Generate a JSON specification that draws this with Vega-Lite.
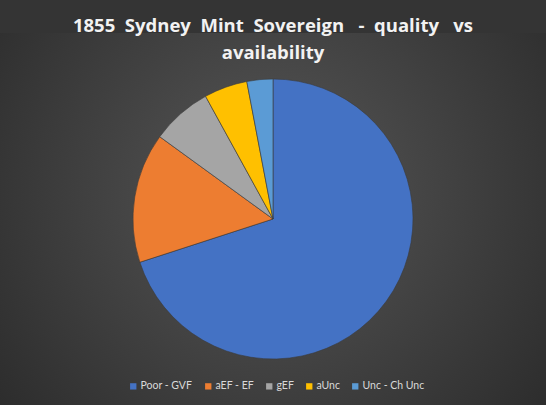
{
  "$schema": "https://vega.github.io/schema/vega-lite/v6.json",
  "autosize": "none",
  "width": 546,
  "height": 372,
  "padding": {"top": 33, "left": 0, "right": 0, "bottom": 0},
  "background": "#343434",
  "title": {
    "text": ["1855\u00a0 Sydney\u00a0 Mint\u00a0 Sovereign\u00a0\u00a0 -\u00a0\u00a0quality\u00a0\u00a0 vs", "availability"],
    "font": "Open Sans",
    "fontSize": 18.5,
    "fontWeight": "bold",
    "color": "#f2f2f2",
    "anchor": "middle",
    "offset": -29,
    "lineHeight": 27
  },
  "layer": [
    {
      "data": {"values": [{"panel": "background"}]},
      "mark": {
        "type": "rect",
        "fill": {
          "gradient": "radial",
          "x1": 0.5, "y1": 0.45, "r1": 0,
          "x2": 0.5, "y2": 0.45, "r2": 0.72,
          "stops": [
            {"offset": 0, "color": "#575757"},
            {"offset": 1, "color": "#272727"}
          ]
        }
      },
      "encoding": {}
    },
    {
      "data": {
        "values": [
          {"quality": "Poor - GVF", "share": 70, "rank": 1},
          {"quality": "aEF - EF", "share": 15, "rank": 2},
          {"quality": "gEF", "share": 7, "rank": 3},
          {"quality": "aUnc", "share": 5, "rank": 4},
          {"quality": "Unc - Ch Unc", "share": 3, "rank": 5}
        ]
      },
      "mark": {"type": "arc", "outerRadius": 140, "stroke": "#3a3a3a", "strokeWidth": 0.6},
      "encoding": {
        "theta": {"field": "share", "type": "quantitative", "stack": true},
        "order": {"field": "rank", "type": "quantitative"},
        "color": {
          "field": "quality",
          "type": "nominal",
          "scale": {
            "domain": ["Poor - GVF", "aEF - EF", "gEF", "aUnc", "Unc - Ch Unc"],
            "range": ["#4472C4", "#ED7D31", "#A5A5A5", "#FFC000", "#5B9BD5"]
          },
          "legend": {
            "title": null,
            "orient": "none",
            "direction": "horizontal",
            "legendX": 128,
            "legendY": 348,
            "symbolType": "square",
            "symbolSize": 40,
            "symbolStrokeWidth": 0,
            "labelFont": "Lato",
            "labelFontSize": 10.5,
            "labelColor": "#d9d9d9",
            "labelOffset": 2,
            "columnPadding": 10
          }
        }
      }
    }
  ],
  "config": {
    "view": {"stroke": null}
  }
}
